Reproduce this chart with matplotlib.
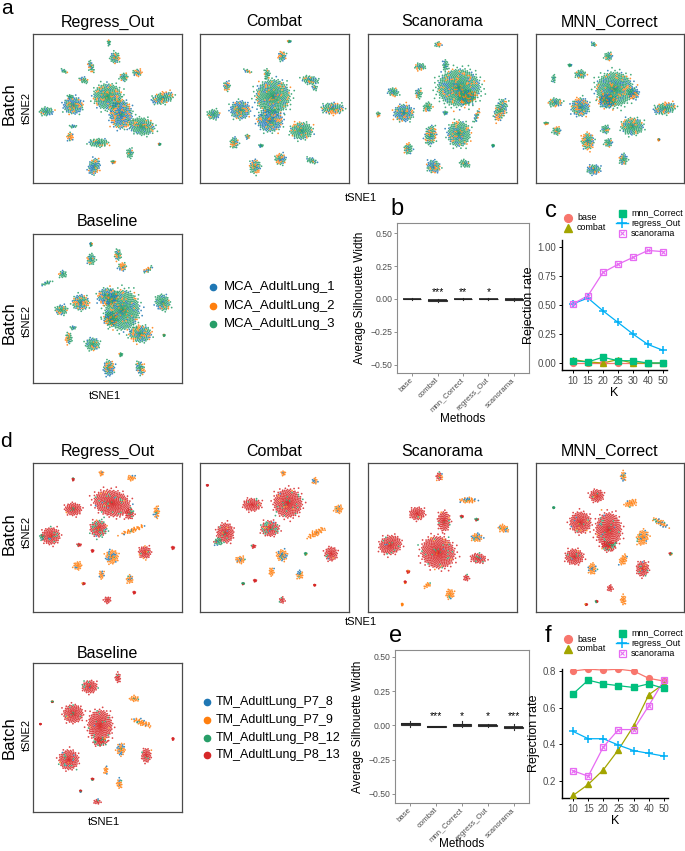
import numpy as np
import matplotlib
matplotlib.use('Agg')
import matplotlib.pyplot as plt
from matplotlib.lines import Line2D

plt.rcParams['font.family'] = ['Liberation Sans', 'DejaVu Sans']

# ---------------- data ----------------
tsne_titles = ['Regress_Out', 'Combat', 'Scanorama', 'MNN_Correct']

mca_batches = ['MCA_AdultLung_1', 'MCA_AdultLung_2', 'MCA_AdultLung_3']
mca_colors = ['#1f77b4', '#ff7f0e', '#279e68']
mca_mix = {'g': [0.15, 0.12, 0.73], 'b': [0.45, 0.20, 0.35], 'o': [0.20, 0.30, 0.50]}

tm_batches = ['TM_AdultLung_P7_8', 'TM_AdultLung_P7_9', 'TM_AdultLung_P8_12', 'TM_AdultLung_P8_13']
tm_colors = ['#1f77b4', '#ff7f0e', '#279e68', '#d62728']
tm_mix = {'r': [0.01, 0.02, 0.06, 0.91], 'rg': [0.02, 0.03, 0.25, 0.70],
          'o': [0.06, 0.92, 0.02, 0.0], 'ob': [0.25, 0.70, 0.05, 0.0],
          'ro': [0.03, 0.35, 0.05, 0.57], 'gg': [0.05, 0.02, 0.80, 0.13]}

# cluster blobs: (x, y, rx, ry, angle, mix)
A_REGRESS = [
    (0.50, 0.58, 0.10, 0.09, 0, 'g'), (0.59, 0.46, 0.08, 0.10, 0, 'b'),
    (0.73, 0.38, 0.09, 0.06, -10, 'g'), (0.87, 0.57, 0.08, 0.04, 15, 'o'),
    (0.09, 0.48, 0.05, 0.03, 0, 'g'), (0.27, 0.52, 0.07, 0.06, 0, 'b'),
    (0.55, 0.84, 0.035, 0.04, 0, 'g'), (0.51, 0.94, 0.01, 0.025, 0, 'g'),
    (0.39, 0.78, 0.02, 0.045, 20, 'o'), (0.21, 0.75, 0.025, 0.012, -30, 'g'),
    (0.34, 0.69, 0.035, 0.02, -20, 'g'), (0.61, 0.71, 0.03, 0.03, 0, 'g'),
    (0.70, 0.74, 0.035, 0.025, 0, 'o'), (0.25, 0.58, 0.02, 0.015, 0, 'g'),
    (0.27, 0.38, 0.025, 0.012, 0, 'g'), (0.25, 0.31, 0.025, 0.03, 0, 'o'),
    (0.44, 0.27, 0.07, 0.03, 0, 'g'), (0.65, 0.20, 0.025, 0.035, 0, 'g'),
    (0.41, 0.11, 0.04, 0.06, -20, 'b'), (0.54, 0.14, 0.015, 0.012, 0, 'g'),
    (0.85, 0.26, 0.008, 0.008, 0, 'g'),
]
A_COMBAT = [
    (0.49, 0.58, 0.12, 0.12, 0, 'g'), (0.47, 0.42, 0.09, 0.08, 0, 'b'),
    (0.68, 0.35, 0.08, 0.06, 0, 'g'), (0.89, 0.50, 0.08, 0.04, 0, 'o'),
    (0.09, 0.46, 0.045, 0.035, 0, 'g'), (0.27, 0.49, 0.07, 0.065, 0, 'b'),
    (0.18, 0.65, 0.025, 0.035, 0, 'o'), (0.32, 0.75, 0.03, 0.012, -20, 'g'),
    (0.45, 0.73, 0.02, 0.04, 0, 'g'), (0.55, 0.85, 0.03, 0.035, 0, 'o'),
    (0.60, 0.95, 0.012, 0.008, 0, 'g'), (0.74, 0.69, 0.06, 0.03, -10, 'g'),
    (0.77, 0.64, 0.02, 0.02, 0, 'g'), (0.23, 0.27, 0.03, 0.04, 0, 'o'),
    (0.32, 0.31, 0.015, 0.02, 0, 'g'), (0.41, 0.25, 0.015, 0.012, 0, 'g'),
    (0.37, 0.11, 0.04, 0.05, 0, 'o'), (0.54, 0.16, 0.04, 0.04, 0, 'o'),
    (0.75, 0.15, 0.04, 0.02, -20, 'g'),
]
A_SCAN = [
    (0.61, 0.64, 0.15, 0.13, 0, 'g'), (0.66, 0.58, 0.06, 0.05, 0, 'o'),
    (0.61, 0.33, 0.08, 0.09, 0, 'g'), (0.89, 0.49, 0.04, 0.08, -20, 'o'),
    (0.73, 0.45, 0.015, 0.05, -20, 'o'), (0.35, 0.78, 0.04, 0.025, 0, 'o'),
    (0.17, 0.61, 0.04, 0.03, -20, 'g'), (0.24, 0.47, 0.07, 0.06, 0, 'b'),
    (0.34, 0.60, 0.025, 0.035, 0, 'g'), (0.40, 0.51, 0.03, 0.035, -30, 'g'),
    (0.47, 0.93, 0.025, 0.02, 0, 'o'), (0.52, 0.79, 0.02, 0.04, 0, 'g'),
    (0.07, 0.46, 0.012, 0.02, 0, 'g'), (0.42, 0.32, 0.04, 0.07, -10, 'o'),
    (0.27, 0.23, 0.03, 0.04, 0, 'o'), (0.44, 0.11, 0.05, 0.045, -30, 'b'),
    (0.65, 0.13, 0.04, 0.025, -20, 'g'), (0.84, 0.25, 0.008, 0.01, 0, 'g'),
    (0.52, 0.47, 0.015, 0.015, 0, 'g'),
]
A_MNN = [
    (0.53, 0.63, 0.13, 0.12, 0, 'g'), (0.66, 0.60, 0.04, 0.04, 0, 'b'),
    (0.48, 0.55, 0.06, 0.05, 0, 'b'), (0.65, 0.38, 0.08, 0.06, 0, 'g'),
    (0.87, 0.50, 0.08, 0.04, 10, 'o'), (0.13, 0.54, 0.05, 0.03, 0, 'g'),
    (0.30, 0.51, 0.065, 0.065, 0, 'b'), (0.30, 0.73, 0.04, 0.03, 0, 'g'),
    (0.12, 0.70, 0.015, 0.03, 0, 'o'), (0.23, 0.79, 0.012, 0.01, 0, 'g'),
    (0.49, 0.85, 0.03, 0.03, 0, 'g'), (0.39, 0.93, 0.02, 0.015, -30, 'g'),
    (0.47, 0.36, 0.03, 0.03, 0, 'g'), (0.14, 0.35, 0.03, 0.03, 0, 'o'),
    (0.35, 0.28, 0.045, 0.06, 0, 'o'), (0.49, 0.27, 0.03, 0.03, 0, 'g'),
    (0.59, 0.16, 0.03, 0.04, 0, 'g'), (0.39, 0.09, 0.05, 0.035, 0, 'b'),
    (0.07, 0.40, 0.015, 0.01, 0, 'g'), (0.83, 0.29, 0.006, 0.008, 0, 'b'),
]
A_BASE = [
    (0.60, 0.49, 0.12, 0.14, 0, 'g'), (0.50, 0.58, 0.07, 0.06, 0, 'b'),
    (0.52, 0.43, 0.05, 0.05, 0, 'o'), (0.72, 0.33, 0.08, 0.06, 0, 'o'),
    (0.87, 0.54, 0.05, 0.06, 30, 'g'), (0.19, 0.49, 0.045, 0.035, 0, 'g'),
    (0.32, 0.54, 0.06, 0.055, 0, 'o'), (0.39, 0.83, 0.03, 0.04, 0, 'g'),
    (0.20, 0.73, 0.03, 0.025, 0, 'g'), (0.09, 0.67, 0.04, 0.012, 20, 'g'),
    (0.57, 0.86, 0.025, 0.04, 0, 'g'), (0.60, 0.78, 0.03, 0.03, 0, 'o'),
    (0.77, 0.76, 0.04, 0.015, 30, 'o'), (0.39, 0.93, 0.008, 0.015, 0, 'g'),
    (0.24, 0.30, 0.025, 0.04, 0, 'o'), (0.27, 0.37, 0.02, 0.015, 0, 'g'),
    (0.40, 0.26, 0.05, 0.045, 0, 'g'), (0.51, 0.10, 0.04, 0.055, 0, 'b'),
    (0.72, 0.10, 0.03, 0.05, 20, 'o'), (0.59, 0.19, 0.012, 0.015, 0, 'g'),
    (0.88, 0.32, 0.006, 0.008, 0, 'g'),
]
D_REGRESS = [
    (0.53, 0.73, 0.13, 0.09, -15, 'r'), (0.65, 0.66, 0.03, 0.04, 0, 'rg'),
    (0.27, 0.69, 0.06, 0.045, 0, 'r'), (0.44, 0.56, 0.06, 0.06, 0, 'rg'),
    (0.12, 0.51, 0.065, 0.06, 0, 'r'), (0.06, 0.50, 0.015, 0.025, 0, 'gg'),
    (0.75, 0.40, 0.045, 0.045, 0, 'r'), (0.46, 0.93, 0.015, 0.02, 0, 'o'),
    (0.66, 0.90, 0.03, 0.02, 0, 'ob'), (0.83, 0.67, 0.02, 0.045, 0, 'ob'),
    (0.67, 0.55, 0.09, 0.015, 20, 'o'), (0.53, 0.37, 0.045, 0.05, 0, 'ob'),
    (0.30, 0.31, 0.03, 0.03, 0, 'o'), (0.46, 0.25, 0.02, 0.03, 0, 'ob'),
    (0.65, 0.22, 0.025, 0.03, 0, 'ob'), (0.50, 0.08, 0.025, 0.025, 0, 'r'),
    (0.31, 0.45, 0.015, 0.012, 0, 'r'), (0.40, 0.41, 0.008, 0.01, 0, 'r'),
    (0.94, 0.43, 0.01, 0.012, 0, 'r'), (0.34, 0.19, 0.01, 0.008, 0, 'r'),
    (0.68, 0.13, 0.008, 0.01, 0, 'r'), (0.27, 0.89, 0.006, 0.012, 0, 'r'),
]
D_COMBAT = [
    (0.59, 0.73, 0.10, 0.10, 0, 'r'), (0.35, 0.72, 0.065, 0.045, 0, 'r'),
    (0.47, 0.56, 0.065, 0.055, 0, 'rg'), (0.17, 0.53, 0.06, 0.07, 0, 'r'),
    (0.12, 0.47, 0.03, 0.025, 0, 'gg'), (0.88, 0.39, 0.045, 0.05, 0, 'r'),
    (0.56, 0.93, 0.015, 0.02, 0, 'o'), (0.77, 0.88, 0.02, 0.025, 0, 'ob'),
    (0.93, 0.69, 0.03, 0.03, 0, 'o'), (0.78, 0.53, 0.07, 0.02, 30, 'o'),
    (0.55, 0.38, 0.04, 0.04, 0, 'ob'), (0.27, 0.35, 0.035, 0.025, 0, 'ob'),
    (0.48, 0.27, 0.02, 0.03, 0, 'o'), (0.67, 0.25, 0.025, 0.03, 0, 'ob'),
    (0.55, 0.08, 0.02, 0.025, 0, 'r'), (0.36, 0.44, 0.015, 0.015, 0, 'r'),
    (0.71, 0.39, 0.008, 0.01, 0, 'gg'), (0.37, 0.21, 0.01, 0.01, 0, 'r'),
    (0.77, 0.18, 0.006, 0.006, 0, 'r'), (0.29, 0.19, 0.008, 0.008, 0, 'gg'),
    (0.05, 0.85, 0.006, 0.005, 0, 'r'),
]
D_SCAN = [
    (0.47, 0.40, 0.12, 0.11, -30, 'r'), (0.51, 0.61, 0.045, 0.07, 0, 'r'),
    (0.33, 0.66, 0.055, 0.045, 0, 'r'), (0.15, 0.45, 0.08, 0.065, 20, 'r'),
    (0.74, 0.36, 0.055, 0.035, -10, 'r'), (0.66, 0.23, 0.02, 0.025, 0, 'r'),
    (0.48, 0.91, 0.025, 0.03, 0, 'ro'), (0.67, 0.75, 0.06, 0.02, 0, 'ob'),
    (0.91, 0.56, 0.04, 0.025, -20, 'o'), (0.73, 0.50, 0.04, 0.03, 0, 'ob'),
    (0.55, 0.12, 0.03, 0.035, 0, 'o'), (0.40, 0.18, 0.03, 0.015, 30, 'o'),
    (0.27, 0.27, 0.01, 0.012, 0, 'rg'), (0.25, 0.20, 0.006, 0.01, 0, 'r'),
    (0.23, 0.05, 0.005, 0.01, 0, 'o'), (0.73, 0.62, 0.012, 0.01, 0, 'gg'),
    (0.63, 0.64, 0.01, 0.01, 0, 'rg'),
]
D_MNN = [
    (0.49, 0.55, 0.09, 0.12, 0, 'r'), (0.49, 0.44, 0.05, 0.035, 0, 'rg'),
    (0.30, 0.60, 0.075, 0.075, 0, 'r'), (0.41, 0.78, 0.05, 0.045, 0, 'r'),
    (0.26, 0.37, 0.065, 0.055, 0, 'r'), (0.38, 0.29, 0.03, 0.04, 0, 'ob'),
    (0.72, 0.29, 0.045, 0.055, 0, 'r'), (0.50, 0.16, 0.02, 0.025, 0, 'r'),
    (0.59, 0.91, 0.02, 0.035, 0, 'ob'), (0.64, 0.73, 0.045, 0.025, 20, 'o'),
    (0.84, 0.60, 0.06, 0.02, -30, 'ob'), (0.72, 0.50, 0.04, 0.055, -20, 'o'),
    (0.59, 0.35, 0.025, 0.04, -30, 'o'), (0.59, 0.08, 0.02, 0.035, 0, 'o'),
    (0.34, 0.05, 0.008, 0.006, 0, 'r'), (0.41, 0.07, 0.008, 0.008, 0, 'rg'),
    (0.91, 0.39, 0.01, 0.01, 0, 'rg'), (0.12, 0.70, 0.006, 0.006, 0, 'gg'),
]
D_BASE = [
    (0.38, 0.84, 0.055, 0.045, 0, 'r'), (0.57, 0.90, 0.02, 0.035, 0, 'r'),
    (0.27, 0.66, 0.07, 0.065, 0, 'r'), (0.45, 0.58, 0.085, 0.11, 0, 'r'),
    (0.45, 0.47, 0.05, 0.03, 0, 'rg'), (0.24, 0.35, 0.07, 0.07, 0, 'r'),
    (0.76, 0.38, 0.035, 0.05, 0, 'r'), (0.68, 0.76, 0.035, 0.02, 0, 'o'),
    (0.73, 0.60, 0.07, 0.02, -20, 'o'), (0.59, 0.42, 0.03, 0.045, 0, 'ob'),
    (0.49, 0.28, 0.015, 0.03, 0, 'o'), (0.58, 0.19, 0.02, 0.035, 0, 'ob'),
    (0.43, 0.07, 0.025, 0.02, 0, 'r'), (0.40, 0.22, 0.008, 0.008, 0, 'rg'),
    (0.32, 0.14, 0.006, 0.008, 0, 'rg'), (0.94, 0.49, 0.006, 0.01, 0, 'rg'),
    (0.13, 0.74, 0.006, 0.005, 0, 'rg'), (0.05, 0.59, 0.004, 0.004, 0, 'r'),
]

methods = ['base', 'combat', 'mnn_Correct', 'regress_Out', 'scanorama']
# box stats (whislo, q1, med, q3, whishi)
b_whislo = [-0.004, -0.025, -0.005, -0.006, -0.015]
b_q1 = [-0.002, -0.014, -0.003, -0.002, -0.004]
b_med = [0.0, -0.010, 0.0, 0.0, 0.0]
b_q3 = [0.002, -0.005, 0.003, 0.002, 0.003]
b_whishi = [0.004, 0.0, 0.005, 0.008, 0.005]
b_stars = ['', '***', '**', '*', '']

e_whislo = [-0.015, -0.015, -0.010, -0.008, -0.030]
e_q1 = [0.005, -0.014, -0.005, -0.004, -0.022]
e_med = [0.010, -0.010, 0.0, 0.0, -0.015]
e_q3 = [0.015, -0.006, 0.008, 0.006, -0.008]
e_whishi = [0.035, -0.005, 0.030, 0.012, 0.010]
e_stars = ['', '***', '*', '*', '***']

K = ['10', '15', '20', '25', '30', '40', '50']
c_base = [0.00, 0.00, 0.00, 0.00, 0.00, 0.00, 0.00]
c_combat = [0.03, 0.01, 0.00, 0.03, 0.00, 0.00, 0.00]
c_mnn = [0.02, 0.01, 0.05, 0.02, 0.02, 0.00, 0.00]
c_regress = [0.51, 0.56, 0.45, 0.35, 0.25, 0.16, 0.11]
c_scan = [0.51, 0.58, 0.78, 0.85, 0.91, 0.97, 0.96]

f_base = [0.80, 0.81, 0.805, 0.81, 0.80, 0.76, 0.745]
f_combat = [0.12, 0.18, 0.26, 0.37, 0.50, 0.67, 0.73]
f_mnn = [0.675, 0.75, 0.73, 0.72, 0.71, 0.73, 0.705]
f_regress = [0.47, 0.43, 0.43, 0.395, 0.365, 0.35, 0.335]
f_scan = [0.255, 0.225, 0.385, 0.48, 0.48, 0.61, 0.75]

series_names = ['base', 'combat', 'mnn_Correct', 'regress_Out', 'scanorama']
series_colors = ['#F8766D', '#A3A500', '#00BF7D', '#00B0F6', '#E76BF3']

# ---------------- helpers ----------------
W, H = 685, 851
fig = plt.figure(figsize=(W / 100, H / 100), dpi=100)


def ax_px(x0, y0, x1, y1):
    return fig.add_axes([x0 / W, 1 - y1 / H, (x1 - x0) / W, (y1 - y0) / H])


def txt(x, y, s, **kw):
    kw.setdefault('ha', 'center')
    kw.setdefault('va', 'center')
    return fig.text(x / W, 1 - y / H, s, **kw)


GA = np.pi * (3 - np.sqrt(5))


def blob_points(clusters, mixes, box=149, dens=0.42):
    xs, ys, ks = [], [], []
    for (u, v, rx, ry, ang, mix) in clusters:
        n = max(10, int(dens * np.pi * rx * ry * box * box))
        i = np.arange(n)
        t = (i + 0.5) / n
        r = t ** 0.6 * (1 + 0.25 * np.clip((t - 0.88) / 0.12, 0, 1) ** 2)
        th = i * GA
        ex, ey = r * np.cos(th) * rx, r * np.sin(th) * ry
        a = np.deg2rad(ang)
        xs.append(u + ex * np.cos(a) - ey * np.sin(a))
        ys.append(v + ex * np.sin(a) + ey * np.cos(a))
        h = (np.sin((i + 1) * 12.9898 + u * 78.233) * 43758.5453) % 1
        cum = np.cumsum(mixes[mix])
        ks.append(np.minimum(np.searchsorted(cum, h, side='right'), len(cum) - 1))
    return np.concatenate(xs), np.concatenate(ys), np.concatenate(ks)


def tsne_panel(box, clusters, mixes, colors):
    ax = ax_px(*box)
    x, y, k = blob_points(clusters, mixes)
    cols = np.array(colors)[k]
    ax.scatter(x, y, s=1.6, c=cols, marker='o', edgecolors='none', alpha=0.85)
    ax.set_xlim(0, 1)
    ax.set_ylim(0, 1)
    ax.set_xticks([])
    ax.set_yticks([])
    for sp in ax.spines.values():
        sp.set_color('#4a4a4a')
        sp.set_linewidth(0.9)
    return ax


cols_x = [(33, 182), (200, 349), (368, 517), (536, 684)]

# ---------------- panel a ----------------
for (x0, x1), title, cl in zip(cols_x, tsne_titles, [A_REGRESS, A_COMBAT, A_SCAN, A_MNN]):
    tsne_panel((x0, 34, x1, 183), cl, mca_mix, mca_colors)
    txt((x0 + x1) / 2, 22, title, fontsize=11.5)
txt(1, 9, 'a', fontsize=15, ha='left')
txt(9, 104, 'Batch', fontsize=12, rotation=90)
txt(27, 108, 'tSNE2', fontsize=8, rotation=90)
txt(361, 198, 'tSNE1', fontsize=8)

tsne_panel((33, 234, 182, 383), A_BASE, mca_mix, mca_colors)
txt(107, 222, 'Baseline', fontsize=11.5)
txt(9, 323, 'Batch', fontsize=12, rotation=90)
txt(27, 321, 'tSNE2', fontsize=8, rotation=90)
txt(105, 396, 'tSNE1', fontsize=8)
for j, (name, col) in enumerate(zip(mca_batches, mca_colors)):
    yy = 287 + j * 18.5
    fig.add_artist(Line2D([213 / W], [1 - yy / H], marker='o', color=col, markersize=4.5,
                          linestyle='none', transform=fig.transFigure))
    txt(224, yy, name, fontsize=9.5, ha='left')

# ---------------- panel d ----------------
for (x0, x1), title, cl in zip(cols_x, tsne_titles, [D_REGRESS, D_COMBAT, D_SCAN, D_MNN]):
    tsne_panel((x0, 463, x1, 612), cl, tm_mix, tm_colors)
    txt((x0 + x1) / 2, 451, title, fontsize=11.5)
txt(0, 442, 'd', fontsize=15, ha='left')
txt(9, 534, 'Batch', fontsize=12, rotation=90)
txt(27, 532, 'tSNE2', fontsize=8, rotation=90)
txt(361, 622, 'tSNE1', fontsize=8)

tsne_panel((33, 663, 182, 812), D_BASE, tm_mix, tm_colors)
txt(107, 654, 'Baseline', fontsize=11.5)
txt(9, 738, 'Batch', fontsize=12, rotation=90)
txt(27, 735, 'tSNE2', fontsize=8, rotation=90)
txt(104, 822, 'tSNE1', fontsize=8)
for j, (name, col) in enumerate(zip(tm_batches, tm_colors)):
    yy = 702 + j * 17.8
    fig.add_artist(Line2D([207 / W], [1 - yy / H], marker='o', color=col, markersize=4.5,
                          linestyle='none', transform=fig.transFigure))
    txt(216, yy, name, fontsize=9, ha='left')


# ---------------- box panels b / e ----------------
def box_panel(box, ylim, wlo, q1, med, q3, whi, stars, star_y, methods_y):
    ax = ax_px(*box)
    stats = [dict(whislo=a, q1=b, med=c, q3=d, whishi=e, fliers=[])
             for a, b, c, d, e in zip(wlo, q1, med, q3, whi)]
    ax.bxp(stats, positions=range(len(methods)), widths=0.72, showfliers=False,
           patch_artist=True,
           boxprops=dict(facecolor='#555555', edgecolor='#333333', linewidth=0.8),
           medianprops=dict(color='#222222', linewidth=1.2),
           whiskerprops=dict(color='#333333', linewidth=0.8),
           capprops=dict(linewidth=0))
    for i, s in enumerate(stars):
        if s:
            ax.text(i, star_y, s, ha='center', va='center', fontsize=7.5)
    ax.set_xlim(-0.6, 4.6)
    ax.set_ylim(*ylim)
    ax.set_yticks([-0.5, -0.25, 0, 0.25, 0.5])
    ax.set_yticklabels(['\u22120.50', '\u22120.25', '0.00', '0.25', '0.50'])
    ax.set_xticks(range(len(methods)))
    ax.set_xticklabels(methods, rotation=45, ha='right', va='center',
                       rotation_mode='anchor')
    ax.tick_params(axis='both', colors='#7f7f7f', labelcolor='#4d4d4d', length=2,
                   width=0.6, pad=1.5)
    ax.tick_params(axis='y', labelsize=6.2)
    ax.tick_params(axis='x', labelsize=5.6, pad=2.5)
    for sp in ax.spines.values():
        sp.set_color('#8c8c8c')
        sp.set_linewidth(0.8)
    ax.set_ylabel('Average Silhouette Width', fontsize=8.5, labelpad=3)
    txt((box[0] + box[2]) / 2, methods_y, 'Methods', fontsize=8.5)
    return ax


box_panel((397, 223, 529, 373), (-0.561, 0.576), b_whislo, b_q1, b_med, b_q3, b_whishi,
          b_stars, 0.055, 419)
txt(397, 209, 'b', fontsize=17)
box_panel((395, 650, 529, 803), (-0.566, 0.55), e_whislo, e_q1, e_med, e_q3, e_whishi,
          e_stars, 0.065, 844)
txt(396, 636, 'e', fontsize=17)


# ---------------- line panels c / f ----------------
def draw_series(ax, vals, idx, ms=4.2):
    col = series_colors[idx]
    x = np.arange(len(K))
    ax.plot(x, vals, color=col, linewidth=0.9, zorder=2)
    if idx == 0:
        ax.plot(x, vals, 'o', color=col, markersize=ms, zorder=3)
    elif idx == 1:
        ax.plot(x, vals, '^', color=col, markersize=ms, zorder=3)
    elif idx == 2:
        ax.plot(x, vals, 's', color=col, markersize=ms * 0.95, zorder=3)
    elif idx == 3:
        ax.plot(x, vals, '+', color=col, markersize=ms * 1.5, markeredgewidth=1.1, zorder=3)
    else:
        ax.plot(x, vals, 's', markerfacecolor='none', markeredgecolor=col,
                markersize=ms, markeredgewidth=0.9, zorder=3)
        ax.plot(x, vals, 'x', color=col, markersize=ms * 0.7, markeredgewidth=0.8, zorder=3)


def line_panel(box, ylim, series, yticks, yticklabels):
    ax = ax_px(*box)
    order = [0, 1, 3, 4, 2]
    for idx in order:
        draw_series(ax, series[idx], idx)
    ax.set_xlim(-0.73, 6.27)
    ax.set_ylim(*ylim)
    ax.set_xticks(range(len(K)))
    ax.set_xticklabels(K)
    ax.set_yticks(yticks)
    ax.set_yticklabels(yticklabels)
    ax.spines['top'].set_visible(False)
    ax.spines['right'].set_visible(False)
    for s in ['left', 'bottom']:
        ax.spines[s].set_linewidth(1.0)
        ax.spines[s].set_color('black')
    ax.tick_params(axis='both', labelsize=7, labelcolor='#4d4d4d', length=2.5, width=0.7,
                   pad=1.5)
    ax.set_xlabel('K', fontsize=9, labelpad=1)
    ax.set_ylabel('Rejection rate', fontsize=9, labelpad=2)
    return ax


def legend_block(ytop_left, ytop_right):
    xs_left, xs_right = 568, 622
    left_y = [ytop_left, ytop_left + 9.5]
    right_y = [ytop_right, ytop_right + 10, ytop_right + 20]
    ms = 5.6
    entries = [(xs_left, left_y[0], 0), (xs_left, left_y[1], 1),
               (xs_right, right_y[0], 2), (xs_right, right_y[1], 3), (xs_right, right_y[2], 4)]
    for x, y, idx in entries:
        col = series_colors[idx]
        fx, fy = x / W, 1 - y / H
        if idx == 0:
            fig.add_artist(Line2D([fx], [fy], marker='o', color=col, markersize=ms,
                                  transform=fig.transFigure))
        elif idx == 1:
            fig.add_artist(Line2D([fx], [fy], marker='^', color=col, markersize=ms,
                                  transform=fig.transFigure))
        elif idx == 2:
            fig.add_artist(Line2D([fx], [fy], marker='s', color=col, markersize=ms * 0.9,
                                  transform=fig.transFigure))
        elif idx == 3:
            fig.add_artist(Line2D([(x - 6) / W, (x + 6) / W], [fy, fy], color=col,
                                  linewidth=1.0, transform=fig.transFigure))
            fig.add_artist(Line2D([fx], [fy], marker='+', color=col, markersize=ms * 1.4,
                                  markeredgewidth=1.1, transform=fig.transFigure))
        else:
            fig.add_artist(Line2D([fx], [fy], marker='s', markerfacecolor='none',
                                  markeredgecolor=col, markersize=ms * 0.9,
                                  markeredgewidth=0.9, transform=fig.transFigure))
            fig.add_artist(Line2D([fx], [fy], marker='x', color=col, markersize=ms * 0.6,
                                  markeredgewidth=0.8, transform=fig.transFigure))
        txt(x + 9, y, series_names[idx], fontsize=6.4, ha='left')


line_panel((562, 240, 667, 370), (-0.06, 1.06), [c_base, c_combat, c_mnn, c_regress, c_scan],
           [0, 0.25, 0.5, 0.75, 1.0], ['0.00', '0.25', '0.50', '0.75', '1.00'])
legend_block(218, 213)
txt(551, 211, 'c', fontsize=17)

line_panel((562, 669, 668, 798), (0.106, 0.811), [f_base, f_combat, f_mnn, f_regress, f_scan],
           [0.2, 0.4, 0.6, 0.8], ['0.2', '0.4', '0.6', '0.8'])
legend_block(639, 633)
txt(548, 636, 'f', fontsize=17)

fig.savefig('out.png', dpi=100)
